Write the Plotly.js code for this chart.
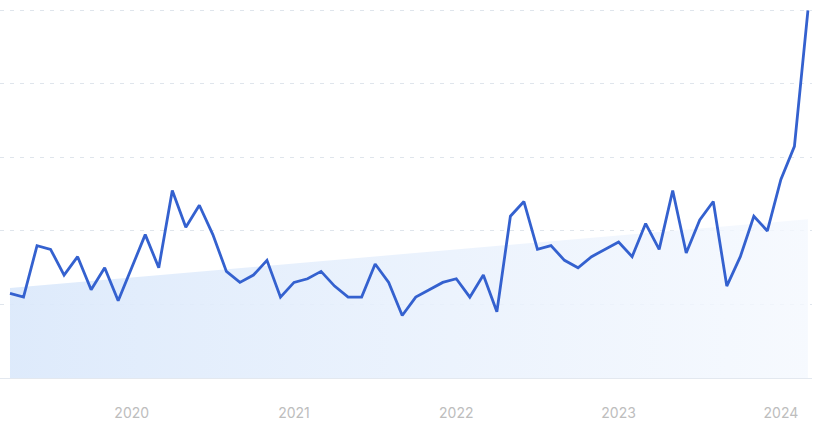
<!DOCTYPE html>
<html>
<head>
<meta charset="utf-8">
<script src="https://cdn.plot.ly/plotly-3.0.1.min.js"></script>
<style>
  html, body { margin: 0; padding: 0; background: #ffffff; }
  #chart { width: 817px; height: 422px; }
</style>
</head>
<body>
<div id="chart"></div>
<script>
// Monthly interest, April 2019 .. March 2024 (index 0..59)
var interest = [
  23, 22, 36, 35, 28, 33, 24, 30, 21, 30, 39, 30,
  51, 41, 47, 39, 29, 26, 28, 32, 22, 26, 27, 29,
  25, 22, 22, 31, 26, 17, 22, 24, 26, 27, 22, 28,
  18, 44, 48, 35, 36, 32, 30, 33, 35, 37, 33, 42,
  35, 51, 34, 43, 48, 25, 33, 44, 40, 54, 63, 100
];
var monthIndex = interest.map(function (_, i) { return i; });

// Trend band: start / end values
var trendX = [0, 59];
var trendY = [24.5, 43.2];

// Year tick labels (positioned at January of each year)
var yearTickIdx = [9, 21, 33, 45, 57];
var yearTickText = ['2020', '2021', '2022', '2023', '2024'];

var gridVals = [20, 40, 60, 80, 100];

var traces = [
  {
    x: trendX,
    y: trendY,
    type: 'scatter',
    mode: 'lines',
    line: { width: 0 },
    fill: 'tozeroy',
    fillcolor: 'rgba(220,233,251,0.8)',
    fillgradient: {
      type: 'horizontal',
      colorscale: [[0, 'rgba(218,232,251,0.9)'], [1, 'rgba(244,248,254,0.8)']]
    },
    hoverinfo: 'skip',
    showlegend: false
  },
  {
    x: monthIndex,
    y: interest,
    type: 'scatter',
    mode: 'lines',
    line: { color: '#3461cf', width: 2.8, shape: 'linear' },
    showlegend: false
  }
];

var layout = {
  width: 817,
  height: 422,
  margin: { l: 0, r: 5, t: 3, b: 44 },
  paper_bgcolor: '#ffffff',
  plot_bgcolor: '#ffffff',
  showlegend: false,
  xaxis: {
    range: [-0.739, 59.3],
    tickmode: 'array',
    tickvals: yearTickIdx,
    ticktext: yearTickText,
    showgrid: false,
    zeroline: false,
    showline: true,
    linecolor: '#e3e8ef',
    linewidth: 1,
    ticks: '',
    ticklabelstandoff: 22,
    tickfont: { family: 'Inter, Roboto, sans-serif', size: 14, color: '#bdbdbd' },
    fixedrange: true
  },
  yaxis: {
    range: [0, 102],
    tickmode: 'array',
    tickvals: gridVals,
    showticklabels: false,
    showgrid: true,
    gridcolor: '#dfe5ec',
    gridwidth: 1,
    griddash: '4px,6px',
    zeroline: false,
    showline: false,
    ticks: '',
    fixedrange: true
  }
};

Plotly.newPlot('chart', traces, layout, { displayModeBar: false, staticPlot: true });
</script>
</body>
</html>
